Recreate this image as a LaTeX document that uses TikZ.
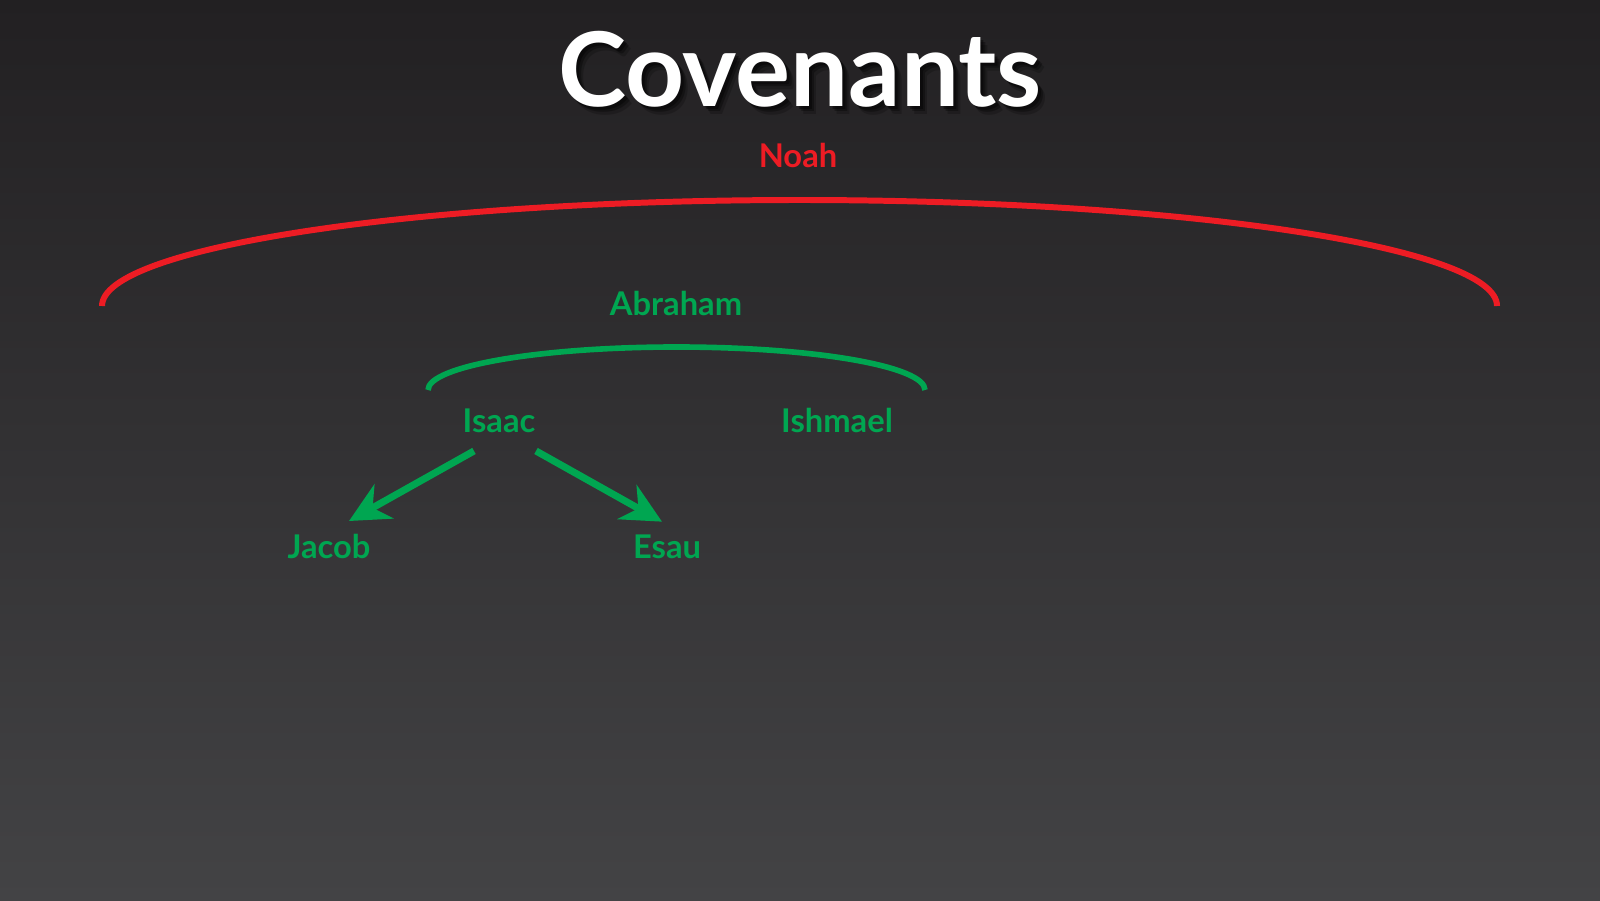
\documentclass[tikz,border=0pt]{standalone}
\usepackage{fontspec}
\setmainfont{Lato}
\usetikzlibrary{arrows.meta}
\definecolor{bgtop}{HTML}{222022}
\definecolor{bgbot}{HTML}{434345}
\definecolor{noahred}{HTML}{ED1C24}
\definecolor{abragreen}{HTML}{00A651}
\tikzset{
  person/.style={anchor=base, inner sep=0pt, font=\fontsize{9.3}{11}\selectfont\bfseries},
  titletext/.style={anchor=base, inner sep=0pt, font=\fontsize{29.3}{32}\selectfont\bfseries},
  arr/.style={line width=2pt, color=abragreen, -{Stealth[length=4mm, width=3.9mm, inset=1.3mm]}}
}

\begin{document}
\begin{tikzpicture}
			%%%%% START %%%%%
			
			\useasboundingbox (0, 0) rectangle (16, 9);
			\shade[top color=bgtop, bottom color=bgbot] (0, 0) rectangle (16, 9);
			
			% title with soft shadow
			\foreach \s/\o in {0.07/0.2, 0.05/0.3, 0.03/0.4}
				\node[titletext, color=black, opacity=\o] at (8+\s, 7.93-\s) {Covenants};
			\node[titletext, color=white] (title) at (8, 7.93) {Covenants};
			
			\node[person, color=noahred] (noah) at (7.98, 7.32) {Noah};
			\draw[line width=1.7pt, color=noahred] (1.02, 5.94) arc[start angle=180, end angle=0, x radius=6.975, y radius=1.06];
			
			\node[person, color=abragreen] (abraham) at (6.76, 5.85) {Abraham};
			\draw[line width=1.6pt, color=abragreen] (4.28, 5.10) arc[start angle=180, end angle=0, x radius=2.485, y radius=0.43];
			
			\node[person, color=abragreen] (isaac) at (4.99, 4.68) {Isaac};
			\node[person, color=abragreen] (ishmael) at (8.37, 4.68) {Ishmael};
			\node[person, color=abragreen] (jacob) at (3.29, 3.42) {Jacob};
			\node[person, color=abragreen] (esau) at (6.67, 3.42) {Esau};
			
			\draw[arr] ([xshift=-0.25cm, yshift=-0.18cm]isaac.south) -- ([xshift=0.2cm, yshift=0.12cm]jacob.north);
			\draw[arr] ([xshift=0.37cm, yshift=-0.18cm]isaac.south) -- ([xshift=-0.05cm, yshift=0.12cm]esau.north);
			
			%%%%% END %%%%%
\end{tikzpicture}
\end{document}
